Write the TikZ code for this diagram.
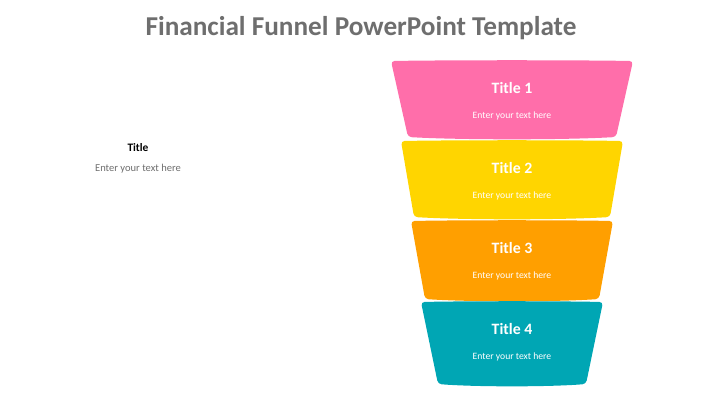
\documentclass[tikz,border=0pt]{standalone}
\usepackage{fontspec}
\setmainfont{Carlito}
\usepackage{xcolor}
\usetikzlibrary{positioning}
\definecolor{segpink}{HTML}{FF6EAA}
\definecolor{segyellow}{HTML}{FFD500}
\definecolor{segorange}{HTML}{FF9F00}
\definecolor{segteal}{HTML}{00A6B4}
\definecolor{headgray}{HTML}{6E6E6E}
\tikzset{
  seg/.style={rounded corners=2pt},
  segtitle/.style={text=white, font=\bfseries\fontsize{9}{10}\selectfont},
  segtext/.style={text=white, font=\fontsize{5.5}{6}\selectfont}
}
% segment: top y, bottom y, top half-width, bottom half-width, colour, name, number
\newcommand{\funnelseg}[7]{%
  \fill[#5, seg] (512-#3,#1) .. controls (512-#3/2,#1-1) and (512+#3/2,#1-1) .. (512+#3,#1)
    -- (512+#4,#2-2) .. controls (512+#4/2,#2+1) and (512-#4/2,#2+1) .. (512-#4,#2-2) -- cycle;
  \node[segtitle] (#6t) at (512,#1+27) {Title #7};
  \node[segtext, below=3pt of #6t] (#6s) {Enter your text here};
}
\begin{document}
\begin{tikzpicture}[x=0.02cm, y=-0.02cm]
  \useasboundingbox (0,0) rectangle (711,400);
  \node[text=headgray, font=\bfseries\fontsize{15.5}{17}\selectfont] (head) at (361,28) {Financial Funnel PowerPoint Template};
  \funnelseg{61}{139}{121}{104}{segpink}{one}{1}
  \funnelseg{141}{219}{111}{98}{segyellow}{two}{2}
  \funnelseg{221}{301}{101}{87}{segorange}{three}{3}
  \funnelseg{302}{386}{91}{74}{segteal}{four}{4}
  \node[font=\bfseries\fontsize{6.5}{7}\selectfont] (ltitle) at (138,148) {Title};
  \node[text=headgray, font=\fontsize{6}{7}\selectfont, below=0pt of ltitle] (ltext) {Enter your text here};
\end{tikzpicture}
\end{document}
